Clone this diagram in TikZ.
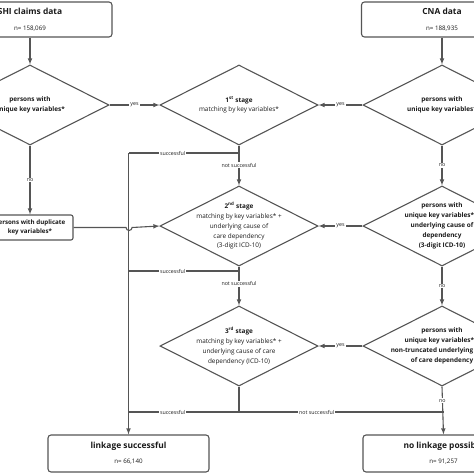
\documentclass[tikz,border=0pt]{standalone}
\usepackage{fontspec}
\setmainfont{Open Sans}
\usetikzlibrary{shapes,arrows}
\definecolor{linegray}{HTML}{555555}
\definecolor{textgray}{HTML}{1A1A1A}
\tikzstyle{box} = [rectangle, rounded corners=3pt, draw=linegray, line width=1.1pt, align=center, fill=white, text=textgray]
\tikzstyle{decision} = [diamond, aspect=2, minimum width=158pt, minimum height=80pt, inner sep=0pt, draw=linegray, line width=1.1pt]
\tikzstyle{dtext} = [align=center, inner sep=0pt, text=textgray, font=\fontsize{6.4}{9.9}\selectfont]
\tikzstyle{dbold} = [dtext, font=\fontsize{6.4}{9.9}\selectfont\bfseries]
\tikzstyle{line} = [draw=linegray, line width=1.1pt]
\tikzstyle{arrow} = [draw=linegray, line width=1.1pt, -latex]
\tikzstyle{lbl} = [fill=white, inner sep=1pt, text=textgray, font=\fontsize{5.3}{6}\selectfont]
\newcommand{\boxtitle}[1]{{\fontsize{8.4}{10}\selectfont\bfseries #1}}
\newcommand{\boxcount}[1]{{\fontsize{6.2}{7}\selectfont #1}}

\begin{document}
\begin{tikzpicture}[x=1pt, y=-1pt]
        \useasboundingbox (0,0) rectangle (474,474);
        \clip (0,0) rectangle (474,474);
        
        % data sources
        \node (shi) [box, minimum width=164pt, minimum height=35pt] at (30,19.5) {\boxtitle{SHI claims data} \\[4pt] \boxcount{n= 158,069}};
        \node (cna) [box, minimum width=161pt, minimum height=35pt] at (442,19.5) {\boxtitle{CNA data} \\[4pt] \boxcount{n= 188,935}};
        
        % first row of decisions
        \node (uniqL) [decision] at (30,105) {};
        \node (uniqLtxt) [dbold] at (uniqL) {persons with \\ unique key variables*};
        \node (stage1) [decision] at (239,105) {};
        \node (stage1txt) [dtext] at (stage1) {{\bfseries 1\textsuperscript{st} stage} \\ matching by key variables*};
        \node (uniqR) [decision] at (442,105) {};
        \node (uniqRtxt) [dbold] at (uniqR) {persons with \\ unique key variables*};
        
        \draw[arrow] (shi) -- (uniqL);
        \draw[arrow] (cna) -- (uniqR);
        \draw[arrow] (uniqL.east) -- node[lbl] {yes} (stage1.west);
        \draw[arrow] (uniqR.west) -- node[lbl] {yes} (stage1.east);
        
        % second row
        \node (dup) [box, minimum width=86pt, minimum height=25pt, rounded corners=2pt, font=\fontsize{6.2}{9.2}\selectfont\bfseries] at (30,227.5) {persons with duplicate \\ key variables*};
        \node (stage2) [decision] at (239,226) {};
        \node (stage2txt) [dtext] at (stage2) {{\bfseries 2\textsuperscript{nd} stage} \\ matching by key variables* + \\ underlying cause of \\ care dependency \\ (3-digit ICD-10)};
        \node (uniqR2) [decision] at (442,226) {};
        \node (uniqR2txt) [dbold] at (uniqR2) {persons with \\ unique key variables* + \\ underlying cause of \\ dependency \\ (3-digit ICD-10)};
        
        \draw[arrow] (uniqL.south) -- node[lbl] {no} (dup.north);
        \draw[arrow] (uniqR.south) -- node[lbl] {no} (uniqR2.north);
        \draw[arrow] (uniqR2.west) -- node[lbl] {yes} (stage2.east);
        
        % third row
        \node (stage3) [decision] at (239,346) {};
        \node (stage3txt) [dtext] at (stage3) {{\bfseries 3\textsuperscript{rd} stage} \\ matching by key variables* + \\ underlying cause of care \\ dependency (ICD-10)};
        \node (uniqR3) [decision] at (442,346) {};
        \node (uniqR3txt) [dbold] at (uniqR3) {persons with \\ unique key variables* + \\ non-truncated underlying cause \\ of care dependency};
        
        \draw[arrow] (uniqR2.south) -- node[lbl] {no} (uniqR3.north);
        \draw[arrow] (uniqR3.west) -- node[lbl] {yes} (stage3.east);
        
        % results
        \node (linkOK) [box, minimum width=161pt, minimum height=37pt] at (128.5,453.5) {\boxtitle{linkage successful} \\[3pt] \boxcount{n= 66,140}};
        \node (noLink) [box, minimum width=161pt, minimum height=37pt] at (443.5,453.5) {\boxtitle{no linkage possible} \\[3pt] \boxcount{n= 91,257}};
        
        % successful branches
        \coordinate (j1) at (239,153);
        \coordinate (j2) at (239,271);
        \coordinate (j3) at (239,412);
        \coordinate (c1) at (128.5,153);
        
        \draw[line] (stage1.south) -- (j1);
        \draw[line] (j1) -- node[lbl, pos=0.6] {successful} (c1);
        \draw[arrow] (j1) -- node[lbl, pos=0.37] {not successful} (stage2.north);
        \draw[line] (stage2.south) -- (j2);
        \draw[line] (j2) -- node[lbl, pos=0.6] {successful} (j2 -| c1);
        \draw[arrow] (j2) -- node[lbl, pos=0.37] {not successful} (stage3.north);
        \draw[line] (stage3.south) -- (j3);
        \draw[line] (j3) -- node[lbl, pos=0.6] {successful} (j3 -| c1);
        \draw[line] (j3) -- node[lbl, pos=0.38] {not successful} (j3 -| noLink);
        \draw[arrow] (c1) -- (linkOK.north);
        \draw[arrow] (uniqR3.south) -- node[lbl, pos=0.3] {no} (noLink.north);
        
        % duplicate persons go to the 2nd stage, hopping under the line
        \draw[arrow] (dup.east) -- ++(52.5,0) arc[start angle=180, end angle=360, radius=3pt] -- (stage2.west);
        
    \end{tikzpicture}
\end{document}
